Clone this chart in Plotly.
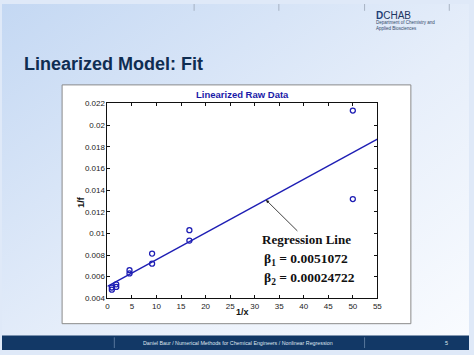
import base64
import plotly.graph_objects as go

# ---- data ----
inv_x = [0.9, 0.9, 1.8, 1.8, 4.5, 4.5, 9.1, 9.1, 16.7, 16.7, 50, 50]
inv_f = [0.0048, 0.0050, 0.00505, 0.00529, 0.0063, 0.0066,
         0.0072, 0.00813, 0.00933, 0.01029, 0.01317, 0.02134]
fit_x = [0, 55]
fit_y = [0.00511, 0.01871]
x_ticks = [0, 5, 10, 15, 20, 25, 30, 35, 40, 45, 50, 55]
y_ticks = [0.004, 0.006, 0.008, 0.01, 0.012, 0.014, 0.016, 0.018, 0.02, 0.022]
y_tick_labels = ["0.004", "0.006", "0.008", "0.01", "0.012", "0.014",
                 "0.016", "0.018", "0.02", "0.022"]
beta_labels = ["β<sub>1</sub> = 0.0051072", "β<sub>2</sub> = 0.00024722"]
arrow_point = (32.3, 0.01309)

W, H = 474, 355
def px(x):
    return x / W
def py(y):
    return 1 - y / H

BLUE = "#1e1eb4"

fig = go.Figure()
fig.add_trace(go.Scatter(x=fit_x, y=fit_y, mode="lines",
                         line=dict(color=BLUE, width=1.4), hoverinfo="skip"))
fig.add_trace(go.Scatter(x=inv_x, y=inv_f, mode="markers",
                         marker=dict(symbol="circle-open", size=5,
                                     color=BLUE, line=dict(width=1.3, color=BLUE)),
                         hoverinfo="skip"))

svg = ("<svg xmlns='http://www.w3.org/2000/svg' width='474' height='355'>"
       "<defs><linearGradient id='g' x1='0' y1='0' x2='1' y2='1'>"
       "<stop offset='0' stop-color='#c4d8f3'/>"
       "<stop offset='0.55' stop-color='#e6eefa'/>"
       "<stop offset='1' stop-color='#fafcff'/>"
       "</linearGradient></defs>"
       "<rect width='474' height='355' fill='url(#g)'/></svg>")
src = "data:image/svg+xml;base64," + base64.b64encode(svg.encode()).decode()

shapes = [
    dict(type="rect", xref="paper", yref="paper", x0=px(61), x1=px(415),
         y0=py(328), y1=py(83), fillcolor="white",
         line=dict(color="#8a8a8a", width=1), layer="below"),
    dict(type="rect", xref="paper", yref="paper", x0=0, x1=1,
         y0=0, y1=py(340), fillcolor="#123866", line=dict(width=0), layer="above"),
    dict(type="line", xref="paper", yref="paper", x0=px(114), x1=px(114),
         y0=py(342), y1=py(353), line=dict(color="#6a86aa", width=0.8)),
    dict(type="line", xref="paper", yref="paper", x0=px(368), x1=px(368),
         y0=py(342), y1=py(353), line=dict(color="#6a86aa", width=0.8)),
]
for hx in [195, 281, 368, 454]:
    shapes.append(dict(type="line", xref="paper", yref="paper", x0=px(hx), x1=px(hx),
                       y0=py(0), y1=py(7), line=dict(color="#9aa6b6", width=0.8)))

ann = []
ann.append(dict(text="<b>Linearized Model: Fit</b>", x=px(20), y=py(62), xref="paper",
                yref="paper", xanchor="left", yanchor="middle", showarrow=False,
                font=dict(family="Liberation Sans, Arial", size=18, color="#0f2d52")))
ann.append(dict(text="<b>Linearized Raw Data</b>", x=px(244), y=py(93), xref="paper",
                yref="paper", xanchor="center", yanchor="middle", showarrow=False,
                font=dict(family="Liberation Sans, Arial", size=9.5, color="#1a1aa8")))
ann.append(dict(text="<b>1/f</b>", x=px(80), y=py(203), xref="paper", yref="paper",
                xanchor="center", yanchor="middle", showarrow=False, textangle=-90,
                font=dict(family="Liberation Sans, Arial", size=9, color="#111")))
ann.append(dict(text="<b>1/x</b>", x=px(244), y=py(316), xref="paper", yref="paper",
                xanchor="center", yanchor="middle", showarrow=False,
                font=dict(family="Liberation Sans, Arial", size=9, color="#111")))
# "Regression Line" with arrow pointing to the fitted line
ann.append(dict(text="<b>Regression Line</b>", x=arrow_point[0], y=arrow_point[1],
                xref="x", yref="y", showarrow=True, ax=40.5, ay=40,
                arrowhead=2, arrowsize=0.8, arrowwidth=0.8, arrowcolor="#111",
                font=dict(family="Liberation Serif, Times New Roman", size=13, color="#111")))
for i, t in enumerate(beta_labels):
    ann.append(dict(text="<b>" + t + "</b>", x=px(264), y=py(262 + 19.5 * i),
                    xref="paper", yref="paper", xanchor="left", yanchor="middle",
                    showarrow=False,
                    font=dict(family="Liberation Serif, Times New Roman", size=13.5,
                              color="#111")))
# header logo text
ann.append(dict(text="<b><span style='color:#1d3f78'>D</span></b>CHAB", x=px(378), y=py(12),
                xref="paper", yref="paper", xanchor="left", yanchor="middle",
                showarrow=False,
                font=dict(family="Liberation Sans, Arial", size=10, color="#1d3560")))
ann.append(dict(text="Department of Chemistry and<br>Applied Biosciences", x=px(378),
                y=py(22.5), xref="paper", yref="paper", xanchor="left", yanchor="middle",
                showarrow=False, align="left",
                font=dict(family="Liberation Sans, Arial", size=4.5, color="#33496a")))
# footer
ann.append(dict(text="Daniel Baur / Numerical Methods for Chemical Engineers / Nonlinear Regression",
                x=px(240), y=py(347.5), xref="paper", yref="paper", xanchor="center",
                yanchor="middle", showarrow=False,
                font=dict(family="Liberation Sans, Arial", size=5.3, color="#dfe6f0")))
ann.append(dict(text="5", x=px(451), y=py(347.5), xref="paper", yref="paper",
                xanchor="center", yanchor="middle", showarrow=False,
                font=dict(family="Liberation Sans, Arial", size=5.5, color="#dfe6f0")))

axis_common = dict(showgrid=False, zeroline=False, showline=True, linecolor="#111",
                   linewidth=0.8, mirror="ticks", ticks="inside", ticklen=3,
                   tickcolor="#111", tickwidth=0.8,
                   tickfont=dict(family="Liberation Sans, Arial", size=8, color="#222"))

fig.update_layout(
    width=W, height=H, margin=dict(l=0, r=0, t=0, b=0),
    paper_bgcolor="#dfe9f8", plot_bgcolor="rgba(0,0,0,0)",
    showlegend=False,
    images=[dict(source=src, xref="paper", yref="paper", x=0, y=1, sizex=1, sizey=1,
                 sizing="stretch", xanchor="left", yanchor="top", layer="below")],
    shapes=shapes, annotations=ann,
    xaxis=dict(domain=[px(107), px(381)], range=[0, 55], tickvals=x_ticks,
               ticktext=[str(v) for v in x_ticks], **axis_common),
    yaxis=dict(domain=[py(302), py(102)], range=[0.004, 0.022], tickvals=y_ticks,
               ticktext=y_tick_labels, **axis_common),
)
fig.write_html("out.html", config={"displayModeBar": False},
               post_script="document.body.style.margin='0';"
                           "document.body.style.overflow='hidden';")
